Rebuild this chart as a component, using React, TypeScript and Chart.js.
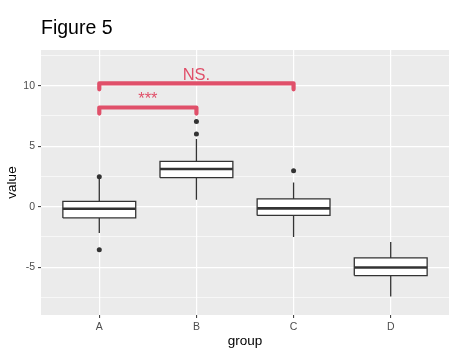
import React, { useEffect, useRef } from "react";
import { Chart, registerables } from "chart.js";

Chart.register(...registerables);

// ---- data ----
const categories = ["A", "B", "C", "D"];
const q1 = [-0.93, 2.4, -0.72, -5.69];
const medians = [-0.17, 3.12, -0.14, -5.03];
const q3 = [0.44, 3.74, 0.64, -4.23];
const whiskerLow = [-2.17, 0.58, -2.5, -7.43];
const whiskerHigh = [2.42, 5.6, 2.0, -2.91];
const outlierGroup = [1, 1, 2, 2, 3];
const outlierValue = [2.48, -3.55, 7.05, 6.0, 2.98];
const yMajorTicks = [-5, 0, 5, 10];
const yMinorTicks = [-7.5, -2.5, 2.5, 7.5, 12.5];
const bracketFrom = [1, 1];
const bracketTo = [2, 3];
const bracketY = [8.2, 10.2];
const bracketTip = [7.7, 9.7];
const bracketLabels = ["***", "NS."];
const bracketLabelY = [8.5, 10.44];

const FONT = "'Liberation Sans', Arial, Helvetica, sans-serif";
const SIG = "#E0506A";
const DARK = "#333333";
const HALF = 0.375;

export default function App() {
  const ref = useRef<HTMLCanvasElement | null>(null);

  useEffect(() => {
    if (!ref.current) return;
    const datasets: any[] = [];

    // brackets (on top)
    bracketFrom.forEach((f, i) => {
      datasets.push({
        type: "line",
        data: [
          { x: f, y: bracketTip[i] },
          { x: f, y: bracketY[i] },
          { x: bracketTo[i], y: bracketY[i] },
          { x: bracketTo[i], y: bracketTip[i] },
        ],
        borderColor: SIG,
        borderWidth: 4.2,
        borderCapStyle: "round",
        borderJoinStyle: "round",
        pointRadius: 0,
        fill: false,
      });
    });

    // outliers
    datasets.push({
      type: "scatter",
      data: outlierGroup.map((g, i) => ({ x: g, y: outlierValue[i] })),
      backgroundColor: DARK,
      borderColor: DARK,
      pointRadius: 2.5,
      borderWidth: 0,
    });

    categories.forEach((_, i) => {
      const x = i + 1;
      // median
      datasets.push({
        type: "line",
        data: [
          { x: x - HALF, y: medians[i] },
          { x: x + HALF, y: medians[i] },
        ],
        borderColor: DARK,
        borderWidth: 2.6,
        pointRadius: 0,
        fill: false,
      });
      // box
      datasets.push({
        type: "line",
        data: [
          { x: x - HALF, y: q1[i] },
          { x: x + HALF, y: q1[i] },
          { x: x + HALF, y: q3[i] },
          { x: x - HALF, y: q3[i] },
          { x: x - HALF, y: q1[i] },
        ],
        borderColor: DARK,
        backgroundColor: "#FFFFFF",
        borderWidth: 1.3,
        pointRadius: 0,
        fill: "shape",
      });
      // whiskers
      datasets.push({
        type: "line",
        data: [
          { x, y: q3[i] },
          { x, y: whiskerHigh[i] },
        ],
        borderColor: DARK,
        borderWidth: 1.3,
        pointRadius: 0,
        fill: false,
      });
      datasets.push({
        type: "line",
        data: [
          { x, y: q1[i] },
          { x, y: whiskerLow[i] },
        ],
        borderColor: DARK,
        borderWidth: 1.3,
        pointRadius: 0,
        fill: false,
      });
    });

    const bgPlugin = {
      id: "panelBg",
      beforeDraw(chart: any) {
        const { ctx, chartArea } = chart;
        ctx.save();
        ctx.fillStyle = "#EBEBEB";
        ctx.fillRect(chartArea.left, chartArea.top, chartArea.right - chartArea.left, chartArea.bottom - chartArea.top);
        ctx.restore();
      },
    };

    const textPlugin = {
      id: "texts",
      afterDraw(chart: any) {
        const { ctx, chartArea } = chart;
        const xs = chart.scales.x;
        const ys = chart.scales.y;
        ctx.save();
        ctx.fillStyle = "#000000";
        ctx.font = `19.5px ${FONT}`;
        ctx.textAlign = "left";
        ctx.textBaseline = "alphabetic";
        ctx.fillText("Figure 5", chartArea.left, 34);
        ctx.fillStyle = SIG;
        ctx.font = `16.5px ${FONT}`;
        ctx.textAlign = "center";
        bracketLabels.forEach((lab, i) => {
          const cx = xs.getPixelForValue((bracketFrom[i] + bracketTo[i]) / 2);
          const cy = ys.getPixelForValue(bracketLabelY[i]);
          ctx.fillText(lab, cx, cy);
        });
        ctx.restore();
      },
    };

    const isMajor = (v: number) => yMajorTicks.includes(v);

    const chart = new Chart(ref.current, {
      type: "line",
      data: { datasets },
      plugins: [bgPlugin, textPlugin],
      options: {
        responsive: false,
        animation: false,
        layout: { padding: { top: 50, right: 25, bottom: 0, left: 0 } },
        plugins: {
          legend: { display: false },
          tooltip: { enabled: false },
          title: { display: false },
        },
        scales: {
          x: {
            type: "linear",
            min: 0.4,
            max: 4.6,
            afterBuildTicks: (s: any) => {
              s.ticks = categories.map((_, i) => ({ value: i + 1 }));
            },
            afterFit: (s: any) => {
              s.height = 40;
            },
            ticks: {
              callback: (v: any) => categories[Math.round(Number(v)) - 1] ?? "",
              color: "#4D4D4D",
              font: { family: FONT, size: 10.5 },
              padding: 3,
              maxRotation: 0,
              autoSkip: false,
            },
            grid: {
              color: "#FFFFFF",
              lineWidth: 1.2,
              tickColor: DARK,
              tickLength: 3,
              tickWidth: 1,
            },
            border: { display: false },
            title: {
              display: true,
              text: "group",
              color: "#000000",
              font: { family: FONT, size: 13.5 },
              padding: { top: 0, bottom: 6 },
            },
          },
          y: {
            type: "linear",
            min: -8.95,
            max: 12.95,
            afterBuildTicks: (s: any) => {
              s.ticks = [...yMajorTicks, ...yMinorTicks].sort((a, b) => a - b).map((v) => ({ value: v }));
            },
            afterFit: (s: any) => {
              s.width = 41;
            },
            ticks: {
              callback: (v: any) => (isMajor(Number(v)) ? String(v) : ""),
              color: "#4D4D4D",
              font: { family: FONT, size: 10.5 },
              padding: 3,
              autoSkip: false,
            },
            grid: {
              color: "#FFFFFF",
              lineWidth: (c: any) => (isMajor(c.tick?.value) ? 1.2 : 0.6),
              tickColor: (c: any) => (isMajor(c.tick?.value) ? DARK : "rgba(0,0,0,0)"),
              tickLength: 3,
              tickWidth: 1,
            },
            border: { display: false },
            title: {
              display: true,
              text: "value",
              color: "#000000",
              font: { family: FONT, size: 13.5 },
              padding: { top: 4, bottom: 0 },
            },
          },
        },
      } as any,
    });
    return () => chart.destroy();
  }, []);

  return (
    <div style={{ position: "absolute", left: 0, top: 0, width: 474, height: 355 }}>
      <canvas ref={ref} width={474} height={355} style={{ display: "block" }} />
    </div>
  );
}
